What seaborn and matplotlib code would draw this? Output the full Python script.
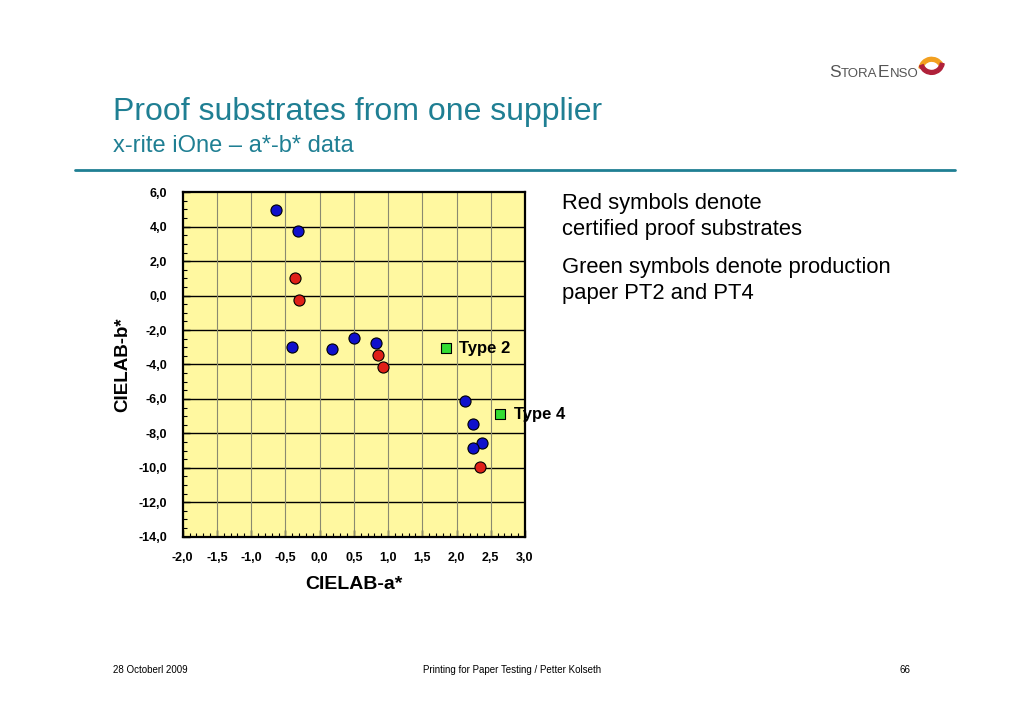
import numpy as np
import pandas as pd
import seaborn as sns
import matplotlib
matplotlib.use("Agg")
import matplotlib.pyplot as plt
from matplotlib.ticker import MultipleLocator, FuncFormatter
from matplotlib.patches import Wedge

# ---- data ----
blue_a = [-0.64, -0.32, -0.41, 0.18, 0.50, 0.82, 2.12, 2.24, 2.37, 2.24]
blue_b = [4.96, 3.76, -3.01, -3.12, -2.46, -2.78, -6.10, -7.43, -8.55, -8.86]
red_a = [-0.36, -0.30, 0.86, 0.93, 2.34]
red_b = [1.05, -0.24, -3.43, -4.14, -9.98]
green_a = [1.84, 2.63]
green_b = [-3.07, -6.89]
green_labels = ["Type 2", "Type 4"]

x_ticks = [-2.0, -1.5, -1.0, -0.5, 0.0, 0.5, 1.0, 1.5, 2.0, 2.5, 3.0]
y_ticks = [6.0, 4.0, 2.0, 0.0, -2.0, -4.0, -6.0, -8.0, -10.0, -12.0, -14.0]

sns.set_style("white")
plt.rcParams['font.family'] = ['Liberation Sans', 'DejaVu Sans']
plt.rcParams['text.color'] = 'black'
plt.rcParams['axes.labelcolor'] = 'black'
plt.rcParams['xtick.color'] = 'black'
plt.rcParams['ytick.color'] = 'black'

fig = plt.figure(figsize=(10.3, 7.28), dpi=100)
ax = fig.add_axes([0.1774, 0.2628, 0.3323, 0.4731])
ax.set_facecolor("#FFF8A0")

df_blue = pd.DataFrame({"a": blue_a, "b": blue_b})
df_red = pd.DataFrame({"a": red_a, "b": red_b})
df_green = pd.DataFrame({"a": green_a, "b": green_b, "label": green_labels})

sns.scatterplot(data=df_blue, x="a", y="b", ax=ax, color="#1010CC", s=64,
                edgecolor="black", linewidth=0.8, zorder=5, clip_on=False)
sns.scatterplot(data=df_red, x="a", y="b", ax=ax, color="#E02018", s=64,
                edgecolor="black", linewidth=0.8, zorder=5, clip_on=False)
sns.scatterplot(data=df_green, x="a", y="b", ax=ax, color="#33DD33", s=60,
                marker="s", edgecolor="black", linewidth=0.8, zorder=5, clip_on=False)
for a, b, lab in zip(green_a, green_b, green_labels):
    ax.annotate(lab, (a, b), xytext=(10, 0), textcoords="offset points",
                va="center", ha="left", fontsize=12, fontweight="bold",
                annotation_clip=False, zorder=6)

ax.set_xlim(-2.0, 3.0)
ax.set_ylim(-14.0, 6.0)
ax.set_xticks(x_ticks)
ax.set_yticks(y_ticks)
ax.xaxis.set_minor_locator(MultipleLocator(0.1))
ax.yaxis.set_minor_locator(MultipleLocator(0.5))
fmt = FuncFormatter(lambda v, p: f"{v:.1f}".replace(".", ","))
ax.xaxis.set_major_formatter(fmt)
ax.yaxis.set_major_formatter(fmt)
ax.tick_params(axis="both", which="major", direction="in", length=5, width=1,
               labelsize=9, pad=11, color="black", bottom=True, left=True)
ax.tick_params(axis="both", which="minor", direction="in", length=3, width=0.8,
               color="black", bottom=True, left=True)
for lab in ax.get_xticklabels() + ax.get_yticklabels():
    lab.set_fontweight("bold")

ax.grid(False)
for yv in y_ticks[1:-1]:
    ax.axhline(yv, color="black", lw=1.0, zorder=1)
for xv in x_ticks[1:-1]:
    ax.axvline(xv, color="#8a8a70", lw=0.8, zorder=1)
for sp in ax.spines.values():
    sp.set_visible(True)
    sp.set_color("black")
    sp.set_linewidth(1.6)

ax.set_xlabel("CIELAB-a*", fontsize=14, fontweight="bold", labelpad=9)
ax.set_ylabel("CIELAB-b*", fontsize=13.5, fontweight="bold", labelpad=5)

teal = "#1F7F93"
fig.text(113/1030, 1 - 112/728, "Proof substrates from one supplier", color=teal,
         fontsize=23, va="center", ha="left")
fig.text(113/1030, 1 - 146/728, "x-rite iOne \u2013 a*-b* data", color=teal,
         fontsize=17, va="center", ha="left")
fig.add_artist(plt.Line2D([75/1030, 955/1030], [1 - 170/728, 1 - 170/728],
                          color=teal, lw=2, transform=fig.transFigure))

side = [("Red symbols denote", 204), ("certified proof substrates", 229),
        ("Green symbols denote production", 268), ("paper PT2 and PT4", 293)]
for t, yy in side:
    fig.text(562/1030, 1 - yy/728, t, fontsize=15.8, va="center", ha="left")

# footer
fig.text(113/1030, 1 - 670/728, "28 Octoberl 2009", fontsize=7, va="center", ha="left")
fig.text(512/1030, 1 - 670/728, "Printing for Paper Testing / Petter Kolseth",
         fontsize=7, va="center", ha="center")
fig.text(910/1030, 1 - 670/728, "66", fontsize=7, va="center", ha="right")

# logo: small-caps style word mark, pieces placed by measured widths
renderer = fig.canvas.get_renderer()
x_px = 829.0
for piece, fs in [("S", 12.5), ("TORA", 9.5), ("E", 12.5), ("NSO", 9.5)]:
    t = fig.text(x_px / 1030, 1 - 77/728, piece, fontsize=fs, color="#555555",
                 va="baseline", ha="left")
    bb = t.get_window_extent(renderer=renderer)
    x_px += bb.width + 0.3
lax = fig.add_axes([(x_px - 4)/1030, 1 - 78/728, 34/1030, 26/728])
lax.set_xlim(0, 4)
lax.set_ylim(0, 3)
lax.set_aspect("equal")
lax.axis("off")
lax.add_patch(Wedge((2.0, 0.9), 1.5, 30, 170, width=0.45, color="#F2A020"))
lax.add_patch(Wedge((2.0, 1.9), 1.5, 200, 350, width=0.45, color="#B0213A"))

fig.savefig("out.png", dpi=100, facecolor="white")
